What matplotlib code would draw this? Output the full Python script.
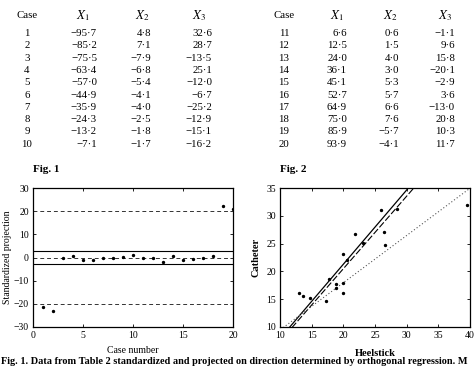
import matplotlib
matplotlib.use("Agg")
import numpy as np
from matplotlib import pyplot as plt

plt.rcParams['font.family'] = ['Liberation Serif', 'DejaVu Serif']
plt.rcParams['mathtext.fontset'] = 'stix'

# table data
case_a = [1, 2, 3, 4, 5, 6, 7, 8, 9, 10]
x1_a = ["−95·7", "−85·2", "−75·5", "−63·4", "−57·0", "−44·9", "−35·9", "−24·3", "−13·2", "−7·1"]
x2_a = ["4·8", "7·1", "−7·9", "−6·8", "−5·4", "−4·1", "−4·0", "−2·5", "−1·8", "−1·7"]
x3_a = ["32·6", "28·7", "−13·5", "25·1", "−12·0", "−6·7", "−25·2", "−12·9", "−15·1", "−16·2"]
case_b = [11, 12, 13, 14, 15, 16, 17, 18, 19, 20]
x1_b = ["6·6", "12·5", "24·0", "36·1", "45·1", "52·7", "64·9", "75·0", "85·9", "93·9"]
x2_b = ["0·6", "1·5", "4·0", "3·0", "5·3", "5·7", "6·6", "7·6", "−5·7", "−4·1"]
x3_b = ["−1·1", "9·6", "15·8", "−20·1", "−2·9", "3·6", "−13·0", "20·8", "10·3", "11·7"]
headers = ["Case", "$X_1$", "$X_2$", "$X_3$"]

# fig 1 data
case_num = np.arange(1, 21)
projection = [-21.2, -23.1, -0.4, 0.8, -1.1, -1.1, -0.2, -0.4, 0.2, 0.9,
              0.0, -0.2, -1.9, 0.5, -0.9, -0.5, -0.2, 0.8, 22.1, 20.9]
dashed_levels = [20, 0, -20]
solid_levels = [2.9, -3.0]

# fig 2 data
heelstick = [13.0, 13.6, 14.8, 17.3, 17.7, 18.9, 18.9, 19.9, 19.9, 20.0,
             20.6, 21.8, 23.1, 26.0, 26.4, 26.5, 28.5, 39.5]
catheter = [16.1, 15.5, 15.3, 14.7, 18.6, 17.8, 17.1, 18.0, 16.2, 23.1,
            22.05, 26.7, 25.1, 31.1, 27.1, 24.7, 31.2, 31.9]
# (intercept, slope) of fitted lines
fit_solid = (-5.41, 1.335)
fit_dashed = (-5.62, 1.305)
fit_dotted = (0.96, 0.85)

caption = ("Fig. 1. Data from Table 2 standardized and projected on direction "
           "determined by orthogonal regression. M")

W, H = 474, 367
fig = plt.figure(figsize=(W / 100, H / 100), dpi=100)

def fx(px):
    return px / W

def fy(py):
    return 1 - py / H

# tables
fs = 7.8
row_y = [33.5 + 12.3 * i for i in range(10)]
tables = [
    (case_a, x1_a, x2_a, x3_a, 27, [97, 151, 212], [83, 142, 199]),
    (case_b, x1_b, x2_b, x3_b, 284, [347, 399, 455], [337, 390, 445]),
]
for cases, c1, c2, c3, cx, rx, hx in tables:
    fig.text(fx(cx), fy(15.5), headers[0], ha='center', va='center', fontsize=fs)
    for j in range(3):
        fig.text(fx(hx[j]), fy(15.5), headers[j + 1], ha='center', va='center', fontsize=fs + 1.5)
    for i in range(10):
        fig.text(fx(cx), fy(row_y[i]), str(cases[i]), ha='center', va='center', fontsize=fs)
        for j, col in enumerate([c1, c2, c3]):
            fig.text(fx(rx[j]), fy(row_y[i]), col[i], ha='right', va='center', fontsize=fs)

fig.text(fx(33), fy(170), "Fig. 1", ha='left', va='center', fontsize=8, fontweight='bold')
fig.text(fx(280), fy(170), "Fig. 2", ha='left', va='center', fontsize=8, fontweight='bold')

# Fig 1
ax1 = fig.add_axes([fx(33), fy(327), fx(233) - fx(33), fy(188) - fy(327)])
for lv in dashed_levels:
    ax1.axhline(lv, color='#333333', lw=0.7, ls=(0, (4, 3)))
for lv in solid_levels:
    ax1.axhline(lv, color='black', lw=0.8)
ax1.scatter(case_num, projection, s=2, color='black', zorder=3)
ax1.set_xlim(0, 20)
ax1.set_ylim(-30, 30)
ax1.set_xticks([0, 5, 10, 15, 20])
ax1.set_yticks([-30, -20, -10, 0, 10, 20, 30])
ax1.set_xlabel("Case number", fontsize=7, labelpad=4)
ax1.set_ylabel("Standardized projection", fontsize=7, labelpad=1)

# Fig 2
ax2 = fig.add_axes([fx(280), fy(327), fx(470) - fx(280), fy(188) - fy(327)])
xx = np.array([5.0, 45.0])
ax2.plot(xx, fit_solid[0] + fit_solid[1] * xx, color='black', lw=0.9)
ax2.plot(xx, fit_dashed[0] + fit_dashed[1] * xx, color='black', lw=0.8, ls=(0, (6, 2)))
ax2.plot(xx, fit_dotted[0] + fit_dotted[1] * xx, color='#555555', lw=0.8, ls=(0, (1, 2)))
ax2.scatter(heelstick, catheter, s=2, color='black', zorder=3)
ax2.set_xlim(10, 40)
ax2.set_ylim(10, 35)
ax2.set_xticks([10, 15, 20, 25, 30, 35, 40])
ax2.set_yticks([10, 15, 20, 25, 30, 35])
ax2.set_xlabel("Heelstick", fontsize=7.5, labelpad=6, fontweight='bold')
ax2.set_ylabel("Catheter", fontsize=7.5, labelpad=4, fontweight='bold')

for ax in (ax1, ax2):
    ax.tick_params(direction='in', length=2.5, width=0.6, labelsize=7, pad=3,
                   top=True, right=True)
    for sp in ax.spines.values():
        sp.set_linewidth(0.9)

fig.text(fx(1), fy(366.5), caption, ha='left', va='bottom', fontsize=7.4, fontweight='bold')

fig.savefig("out.png", dpi=100)
